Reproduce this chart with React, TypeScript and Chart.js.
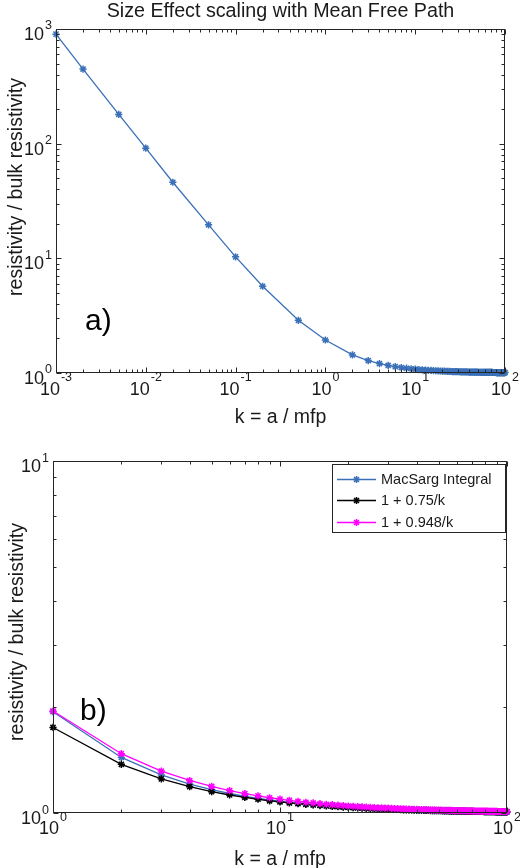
import React, { useEffect, useRef } from 'react';
import { Chart, registerables } from 'chart.js';

Chart.register(...registerables);

// ---------- DATA ----------
const chartTitle = 'Size Effect scaling with Mean Free Path';
const xAxisTitle = 'k = a / mfp';
const yAxisTitle = 'resistivity / bulk resistivity';
const seriesNames = ['MacSarg Integral', '1 + 0.75/k', '1 + 0.948/k'];

// small-k part of the MacSarg curve (top panel only)
const smallK = [0.001, 0.002, 0.005, 0.01, 0.02, 0.05, 0.1, 0.2, 0.5];
const smallKRatio = [902, 447, 180, 91.4, 46.1, 19.6, 10.3, 5.71, 2.88];

const kValues = [
  1, 2, 3, 4, 5, 6, 7, 8, 9, 10,
  11, 12, 13, 14, 15, 16, 17, 18, 19, 20,
  21, 22, 23, 24, 25, 26, 27, 28, 29, 30,
  31, 32, 33, 34, 35, 36, 37, 38, 39, 40,
  41, 42, 43, 44, 45, 46, 47, 48, 49, 50,
  51, 52, 53, 54, 55, 56, 57, 58, 59, 60,
  61, 62, 63, 64, 65, 66, 67, 68, 69, 70,
  71, 72, 73, 74, 75, 76, 77, 78, 79, 80,
  81, 82, 83, 84, 85, 86, 87, 88, 89, 90,
  91, 92, 93, 94, 95, 96, 97, 98, 99, 100,
];

const macSarg = [
  1.940, 1.438, 1.283, 1.208, 1.165, 1.136, 1.115, 1.101, 1.089, 1.080,
  1.072, 1.066, 1.061, 1.056, 1.053, 1.049, 1.046, 1.044, 1.041, 1.039,
  1.037, 1.036, 1.034, 1.033, 1.031, 1.030, 1.029, 1.028, 1.027, 1.026,
  1.025, 1.024, 1.024, 1.023, 1.022, 1.022, 1.021, 1.020, 1.020, 1.019,
  1.019, 1.018, 1.018, 1.018, 1.017, 1.017, 1.016, 1.016, 1.016, 1.015,
  1.015, 1.015, 1.014, 1.014, 1.014, 1.014, 1.013, 1.013, 1.013, 1.013,
  1.012, 1.012, 1.012, 1.012, 1.012, 1.011, 1.011, 1.011, 1.011, 1.011,
  1.011, 1.011, 1.010, 1.010, 1.010, 1.010, 1.010, 1.010, 1.010, 1.009,
  1.009, 1.009, 1.009, 1.009, 1.009, 1.009, 1.009, 1.009, 1.009, 1.008,
  1.008, 1.008, 1.008, 1.008, 1.008, 1.008, 1.008, 1.008, 1.008, 1.008,
];

const fit075 = [
  1.750, 1.375, 1.250, 1.188, 1.150, 1.125, 1.107, 1.094, 1.083, 1.075,
  1.068, 1.063, 1.058, 1.054, 1.050, 1.047, 1.044, 1.042, 1.039, 1.038,
  1.036, 1.034, 1.033, 1.031, 1.030, 1.029, 1.028, 1.027, 1.026, 1.025,
  1.024, 1.023, 1.023, 1.022, 1.021, 1.021, 1.020, 1.020, 1.019, 1.019,
  1.018, 1.018, 1.017, 1.017, 1.017, 1.016, 1.016, 1.016, 1.015, 1.015,
  1.015, 1.014, 1.014, 1.014, 1.014, 1.013, 1.013, 1.013, 1.013, 1.013,
  1.012, 1.012, 1.012, 1.012, 1.012, 1.011, 1.011, 1.011, 1.011, 1.011,
  1.011, 1.010, 1.010, 1.010, 1.010, 1.010, 1.010, 1.010, 1.009, 1.009,
  1.009, 1.009, 1.009, 1.009, 1.009, 1.009, 1.009, 1.009, 1.008, 1.008,
  1.008, 1.008, 1.008, 1.008, 1.008, 1.008, 1.008, 1.008, 1.008, 1.008,
];

const fit0948 = [
  1.948, 1.474, 1.316, 1.237, 1.190, 1.158, 1.135, 1.119, 1.105, 1.095,
  1.086, 1.079, 1.073, 1.068, 1.063, 1.059, 1.056, 1.053, 1.050, 1.047,
  1.045, 1.043, 1.041, 1.040, 1.038, 1.036, 1.035, 1.034, 1.033, 1.032,
  1.031, 1.030, 1.029, 1.028, 1.027, 1.026, 1.026, 1.025, 1.024, 1.024,
  1.023, 1.023, 1.022, 1.022, 1.021, 1.021, 1.020, 1.020, 1.019, 1.019,
  1.019, 1.018, 1.018, 1.018, 1.017, 1.017, 1.017, 1.016, 1.016, 1.016,
  1.016, 1.015, 1.015, 1.015, 1.015, 1.014, 1.014, 1.014, 1.014, 1.014,
  1.013, 1.013, 1.013, 1.013, 1.013, 1.012, 1.012, 1.012, 1.012, 1.012,
  1.012, 1.012, 1.011, 1.011, 1.011, 1.011, 1.011, 1.011, 1.011, 1.011,
  1.010, 1.010, 1.010, 1.010, 1.010, 1.010, 1.010, 1.010, 1.010, 1.009,
];

// ---------- STYLE ----------
const FONT = '"Liberation Sans", Arial, Helvetica, sans-serif';
const AXIS_COLOR = '#262626';
const TEXT_COLOR = '#1a1a1a';
const BLUE = '#3a70b8';
const BLACK = '#000000';
const MAGENTA = '#ff00ff';
const SERIES_COLORS = [BLUE, BLACK, MAGENTA];

const W = 520;
const H = 434;

type PanelCfg = {
  title?: string;
  titleY?: number;
  panel: string;
  panelX: number;
  panelY: number;
  xTitleY: number;
  yTitleX: number;
  yTitleY: number;
  xExp: [number, number];
  yExp: [number, number];
  xBaseDy: number;
  xExpDy: number;
  yBaseDy: number;
  yExpDy: number;
  legend?: { left: number; top: number; right: number; bottom: number; rows: number[] };
};

function drawStar(ctx: CanvasRenderingContext2D, x: number, y: number, r: number) {
  ctx.beginPath();
  for (let i = 0; i < 4; i++) {
    const a = (i * Math.PI) / 4;
    ctx.moveTo(x - r * Math.cos(a), y - r * Math.sin(a));
    ctx.lineTo(x + r * Math.cos(a), y + r * Math.sin(a));
  }
  ctx.stroke();
}

function drawPow(
  ctx: CanvasRenderingContext2D,
  expText: string,
  x: number,
  baseCy: number,
  expCy: number,
  align: 'center' | 'right'
) {
  ctx.textBaseline = 'middle';
  ctx.textAlign = 'left';
  ctx.font = `18px ${FONT}`;
  const wb = ctx.measureText('10').width;
  ctx.font = `12.5px ${FONT}`;
  const we = ctx.measureText(expText).width;
  const total = wb + we + 1;
  const start = align === 'center' ? x - total / 2 : x - total;
  ctx.font = `18px ${FONT}`;
  ctx.fillText('10', start, baseCy);
  ctx.font = `12.5px ${FONT}`;
  ctx.fillText(expText, start + wb + 1, expCy);
}

function makeAxesPlugin(cfg: PanelCfg) {
  return {
    id: 'matlabAxes',
    afterDraw(chart: any) {
      const ctx: CanvasRenderingContext2D = chart.ctx;
      const { left, right, top, bottom } = chart.chartArea;
      const xs = chart.scales.x;
      const ys = chart.scales.y;
      const L = Math.round(left) + 0.5;
      const R = Math.round(right) - 0.5;
      const T = Math.round(top) + 0.5;
      const B = Math.round(bottom) - 0.5;
      ctx.save();
      ctx.strokeStyle = AXIS_COLOR;
      ctx.lineWidth = 1;
      ctx.strokeRect(L, T, R - L, B - T);

      // x ticks
      for (let e = cfg.xExp[0]; e <= cfg.xExp[1]; e++) {
        for (let m = 1; m <= 9; m++) {
          const v = m * Math.pow(10, e);
          if (v > xs.max * 1.0001 || v < xs.min * 0.9999) continue;
          const px = Math.round(xs.getPixelForValue(v)) + 0.5;
          const len = m === 1 ? 5 : 3;
          ctx.beginPath();
          ctx.moveTo(px, B);
          ctx.lineTo(px, B - len);
          ctx.moveTo(px, T);
          ctx.lineTo(px, T + len);
          ctx.stroke();
        }
      }
      // y ticks
      for (let e = cfg.yExp[0]; e <= cfg.yExp[1]; e++) {
        for (let m = 1; m <= 9; m++) {
          const v = m * Math.pow(10, e);
          if (v > ys.max * 1.0001 || v < ys.min * 0.9999) continue;
          const py = Math.round(ys.getPixelForValue(v)) + 0.5;
          const len = m === 1 ? 5 : 3;
          ctx.beginPath();
          ctx.moveTo(L, py);
          ctx.lineTo(L + len, py);
          ctx.moveTo(R, py);
          ctx.lineTo(R - len, py);
          ctx.stroke();
        }
      }

      // tick labels
      ctx.fillStyle = TEXT_COLOR;
      for (let e = cfg.xExp[0]; e <= cfg.xExp[1]; e++) {
        const px = xs.getPixelForValue(Math.pow(10, e));
        drawPow(ctx, String(e), px, bottom + cfg.xBaseDy, bottom + cfg.xExpDy, 'center');
      }
      for (let e = cfg.yExp[0]; e <= cfg.yExp[1]; e++) {
        const py = ys.getPixelForValue(Math.pow(10, e));
        drawPow(ctx, String(e), left - 4, py + cfg.yBaseDy, py + cfg.yExpDy, 'right');
      }

      // axis titles
      ctx.font = `19.5px ${FONT}`;
      ctx.textAlign = 'center';
      ctx.textBaseline = 'middle';
      ctx.fillText(xAxisTitle, (left + right) / 2, cfg.xTitleY);
      ctx.save();
      ctx.translate(cfg.yTitleX, cfg.yTitleY);
      ctx.rotate(-Math.PI / 2);
      ctx.fillText(yAxisTitle, 0, 0);
      ctx.restore();

      // chart title
      if (cfg.title) {
        ctx.font = `19.7px ${FONT}`;
        ctx.textBaseline = 'alphabetic';
        ctx.fillText(cfg.title, (left + right) / 2, cfg.titleY || 17);
      }

      // panel letter
      ctx.font = `30px ${FONT}`;
      ctx.textAlign = 'left';
      ctx.textBaseline = 'alphabetic';
      ctx.fillStyle = '#000';
      ctx.fillText(cfg.panel, cfg.panelX, cfg.panelY);

      // legend
      if (cfg.legend) {
        const lg = cfg.legend;
        ctx.fillStyle = '#ffffff';
        ctx.fillRect(lg.left, lg.top, lg.right - lg.left, lg.bottom - lg.top);
        ctx.strokeStyle = AXIS_COLOR;
        ctx.lineWidth = 1;
        ctx.strokeRect(lg.left + 0.5, lg.top + 0.5, lg.right - lg.left, lg.bottom - lg.top);
        ctx.font = `14.5px ${FONT}`;
        ctx.textBaseline = 'middle';
        seriesNames.forEach((name, i) => {
          const y = lg.rows[i];
          ctx.strokeStyle = SERIES_COLORS[i];
          ctx.lineWidth = 1.3;
          ctx.beginPath();
          ctx.moveTo(lg.left + 5, y + 0.5);
          ctx.lineTo(lg.left + 44, y + 0.5);
          ctx.stroke();
          ctx.lineWidth = 1.5;
          drawStar(ctx, lg.left + 24.5, y + 0.5, 3.5);
          ctx.fillStyle = TEXT_COLOR;
          ctx.fillText(name, lg.left + 49, y + 1);
        });
      }
      ctx.restore();
    },
  };
}

function points(xs: number[], ys: number[]) {
  return xs.map((x, i) => ({ x, y: ys[i] }));
}

function seriesDataset(label: string, color: string, data: { x: number; y: number }[], order: number) {
  return {
    label,
    data,
    borderColor: color,
    backgroundColor: color,
    borderWidth: 1.3,
    pointStyle: 'star',
    pointRadius: 3.6,
    pointBorderWidth: 1.5,
    pointBorderColor: color,
    pointBackgroundColor: color,
    tension: 0,
    clip: false as any,
    order,
  };
}

function baseOptions(padding: any, xMin: number, xMax: number, yMin: number, yMax: number) {
  return {
    animation: false as const,
    responsive: false,
    devicePixelRatio: 1,
    events: [] as any[],
    layout: { padding },
    scales: {
      x: { type: 'logarithmic' as const, min: xMin, max: xMax, display: false },
      y: { type: 'logarithmic' as const, min: yMin, max: yMax, display: false },
    },
    plugins: {
      legend: { display: false },
      tooltip: { enabled: false },
      title: { display: false },
    },
  };
}

export default function App() {
  const topRef = useRef<HTMLCanvasElement>(null);
  const botRef = useRef<HTMLCanvasElement>(null);

  useEffect(() => {
    const topCfg: PanelCfg = {
      title: chartTitle,
      titleY: 17,
      panel: 'a)',
      panelX: 85,
      panelY: 330,
      xTitleY: 418,
      yTitleX: 17,
      yTitleY: 187,
      xExp: [-3, 2],
      yExp: [0, 3],
      xBaseDy: 17,
      xExpDy: 5,
      yBaseDy: 6,
      yExpDy: -3,
    };
    const botCfg: PanelCfg = {
      panel: 'b)',
      panelX: 80,
      panelY: 286,
      xTitleY: 426,
      yTitleX: 18,
      yTitleY: 198,
      xExp: [0, 2],
      yExp: [0, 1],
      xBaseDy: 16,
      xExpDy: 5,
      yBaseDy: 6,
      yExpDy: -2,
      legend: { left: 332, top: 30, right: 505, bottom: 98, rows: [45, 66, 88] },
    };

    const topChart = new Chart(topRef.current as HTMLCanvasElement, {
      type: 'line',
      data: {
        datasets: [
          seriesDataset(seriesNames[0], BLUE, points(smallK.concat(kValues), smallKRatio.concat(macSarg)), 1) as any,
        ],
      },
      options: baseOptions({ left: 56, right: 15, top: 29, bottom: 61 }, 0.001, 100, 1, 1000) as any,
      plugins: [makeAxesPlugin(topCfg)],
    });

    const botChart = new Chart(botRef.current as HTMLCanvasElement, {
      type: 'line',
      data: {
        datasets: [
          seriesDataset(seriesNames[0], BLUE, points(kValues, macSarg), 3) as any,
          seriesDataset(seriesNames[1], BLACK, points(kValues, fit075), 2) as any,
          seriesDataset(seriesNames[2], MAGENTA, points(kValues, fit0948), 1) as any,
        ],
      },
      options: baseOptions({ left: 53, right: 13, top: 27, bottom: 55 }, 1, 100, 1, 10) as any,
      plugins: [makeAxesPlugin(botCfg)],
    });

    return () => {
      topChart.destroy();
      botChart.destroy();
    };
  }, []);

  return (
    <div style={{ position: 'absolute', left: 0, top: 0, width: W, height: 868, background: '#fff' }}>
      <canvas ref={topRef} width={W} height={H} style={{ display: 'block', width: W, height: H }} />
      <canvas ref={botRef} width={W} height={H} style={{ display: 'block', width: W, height: H }} />
    </div>
  );
}
